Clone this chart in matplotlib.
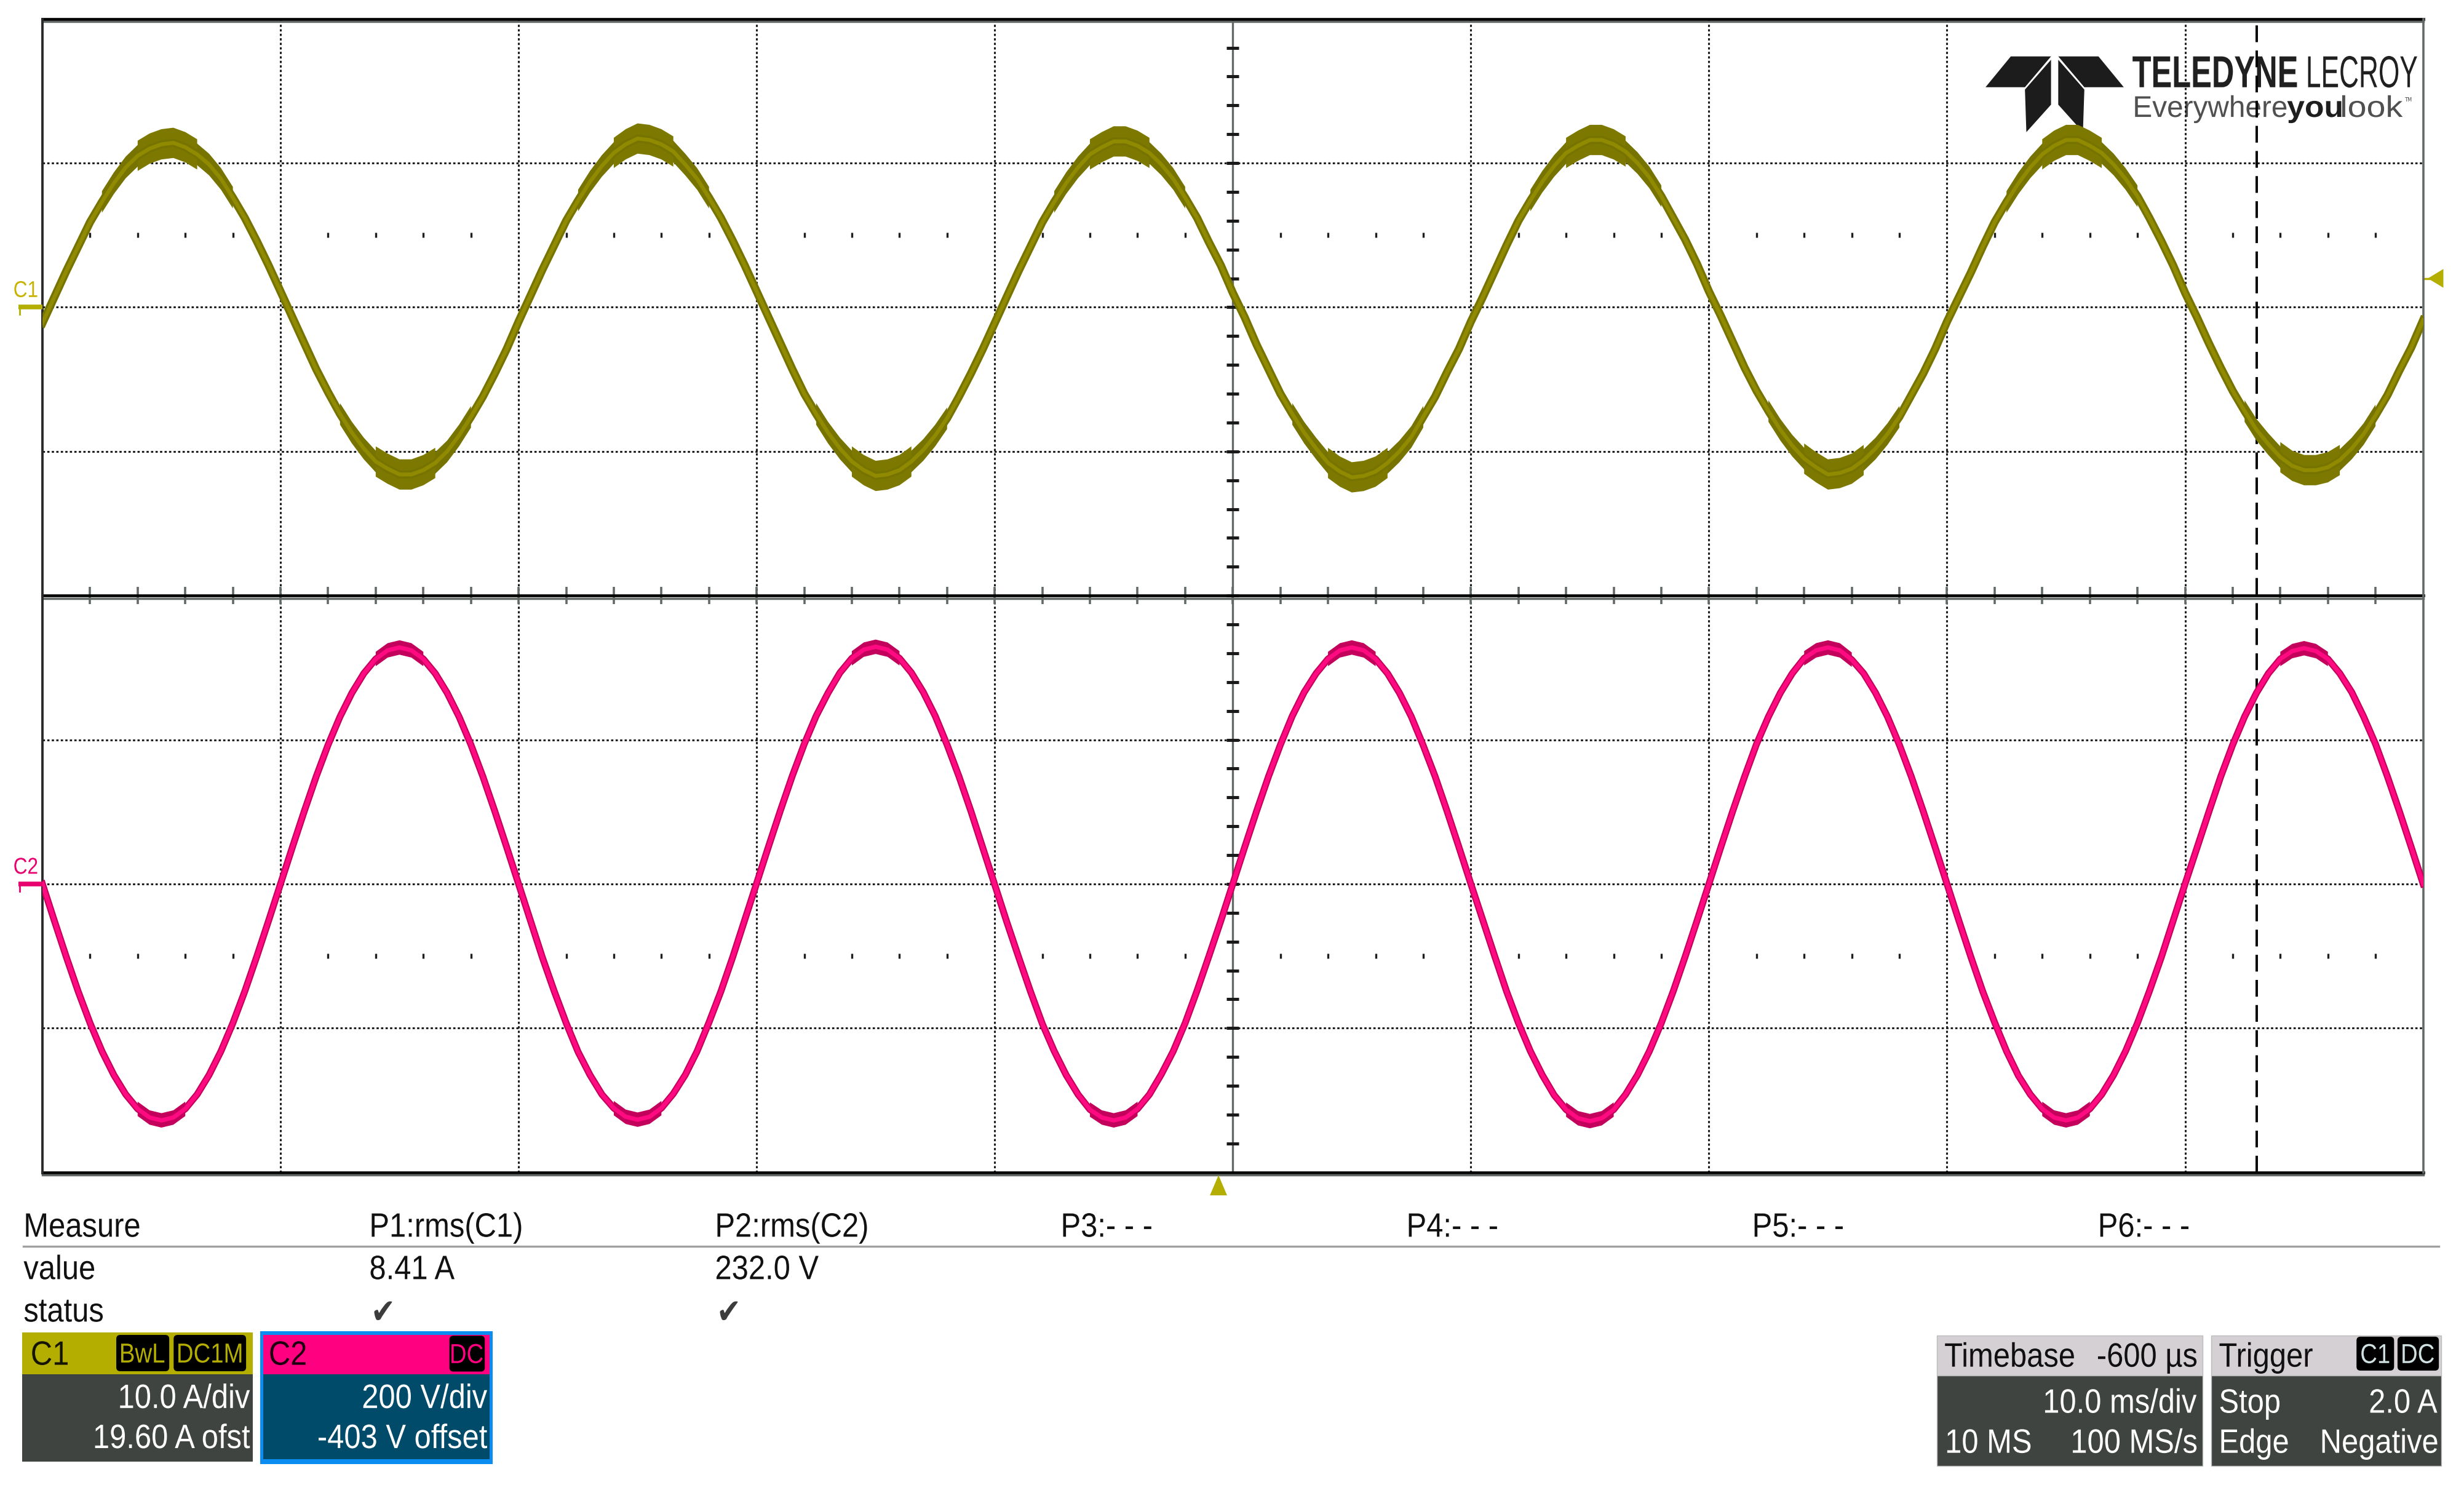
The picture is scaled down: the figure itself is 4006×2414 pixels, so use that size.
import numpy as np
import matplotlib
matplotlib.use("Agg")
import matplotlib.pyplot as plt
from matplotlib.patches import Rectangle, FancyBboxPatch, Polygon, PathPatch
from matplotlib.textpath import TextPath
from matplotlib.font_manager import FontProperties
from matplotlib.transforms import Affine2D

# waveform readings, one sample every 0.5 ms across the 10 divisions
sample_step_ms = 0.5

# C1 current (A)
c1_amps = [
    -1.1, 0.7, 2.5, 4.2, 5.9, 7.3, 8.6, 9.7, 10.5, 11.0,
    11.3, 11.4, 11.1, 10.6, 9.9, 8.9, 7.6, 6.2, 4.6, 2.9,
    1.1, -0.7, -2.5, -4.3, -5.9, -7.4, -8.7, -9.8, -10.7, -11.2,
    -11.6, -11.6, -11.3, -10.8, -10.0, -8.9, -7.6, -6.2, -4.6, -2.9,
    -1.0, 0.8, 2.6, 4.3, 6.0, 7.4, 8.7, 9.8, 10.7, 11.3,
    11.7, 11.6, 11.3, 10.8, 9.9, 8.9, 7.6, 6.2, 4.6, 2.9,
    1.1, -0.7, -2.5, -4.3, -6.0, -7.4, -8.7, -9.8, -10.7, -11.3,
    -11.7, -11.6, -11.3, -10.7, -9.9, -8.9, -7.7, -6.2, -4.6, -2.9,
    -1.1, 0.7, 2.5, 4.2, 5.9, 7.3, 8.6, 9.7, 10.6, 11.1,
    11.5, 11.5, 11.2, 10.7, 9.9, 8.9, 7.6, 6.2, 4.5, 2.9,
    1.0, -0.7, -2.6, -4.3, -6.0, -7.4, -8.7, -9.8, -10.8, -11.4,
    -11.8, -11.7, -11.4, -10.8, -10.0, -9.0, -7.6, -6.2, -4.5, -2.9,
    -1.0, 0.7, 2.5, 4.3, 6.0, 7.4, 8.7, 9.8, 10.7, 11.2,
    11.6, 11.6, 11.3, 10.8, 10.0, 9.0, 7.7, 6.2, 4.7, 3.0,
    1.1, -0.6, -2.4, -4.2, -5.8, -7.2, -8.5, -9.6, -10.5, -11.1,
    -11.6, -11.5, -11.2, -10.6, -9.8, -8.8, -7.6, -6.1, -4.6, -2.9,
    -1.0, 0.7, 2.4, 4.2, 5.9, 7.3, 8.6, 9.7, 10.6, 11.2,
    11.6, 11.6, 11.2, 10.7, 9.9, 8.9, 7.7, 6.2, 4.6, 2.9,
    1.0, -0.7, -2.5, -4.2, -5.8, -7.2, -8.5, -9.5, -10.4, -11.0,
    -11.3, -11.3, -11.1, -10.6, -9.8, -8.8, -7.5, -6.1, -4.4, -2.8,
    -0.9,
]

# C2 voltage (V)
c2_volts = [
    0, -51, -101, -149, -193, -232, -265, -292, -312, -324,
    -328, -324, -312, -292, -265, -232, -193, -149, -101, -51,
    0, 51, 101, 149, 193, 232, 265, 292, 312, 324,
    328, 324, 312, 292, 265, 232, 193, 149, 101, 51,
    0, -51, -102, -149, -193, -233, -265, -292, -311, -323,
    -327, -323, -311, -291, -265, -232, -192, -149, -101, -50,
    1, 52, 102, 150, 194, 233, 265, 293, 313, 325,
    329, 325, 313, 293, 266, 233, 193, 149, 101, 50,
    -1, -52, -101, -149, -194, -232, -265, -292, -313, -324,
    -328, -324, -312, -292, -264, -232, -193, -148, -100, -51,
    0, 51, 101, 149, 193, 233, 266, 292, 312, 324,
    328, 324, 312, 292, 265, 232, 192, 149, 101, 51,
    0, -50, -100, -149, -193, -232, -265, -293, -313, -325,
    -329, -325, -313, -292, -265, -232, -193, -149, -101, -51,
    0, 51, 101, 149, 194, 232, 265, 292, 313, 324,
    328, 324, 311, 292, 265, 232, 193, 149, 101, 51,
    0, -51, -101, -149, -192, -232, -266, -292, -312, -324,
    -328, -324, -312, -292, -265, -232, -193, -149, -102, -51,
    0, 50, 100, 149, 193, 232, 265, 292, 312, 323,
    327, 323, 312, 292, 266, 232, 194, 149, 101, 51,
    0,
]

c1_amps_per_div = 10.0
c2_volts_per_div = 200.0
c1_zero_div = 2.0
c2_zero_div = -2.0
ms_per_div = 10.0
n_xdiv = 10
n_ydiv = 8
trigger_level_a = 2.0
trigger_delay_ms = -0.6
cursor_ms = 93.0

measure_header = ["Measure", "P1:rms(C1)", "P2:rms(C2)", "P3:- - -",
                  "P4:- - -", "P5:- - -", "P6:- - -"]
measure_value = ["value", "8.41 A", "232.0 V"]
measure_status = ["status", "\u2714", "\u2714"]

c1_badges = ["BwL", "DC1M"]
c1_rows = ["10.0 A/div", "19.60 A ofst"]
c2_badges = ["DC"]
c2_rows = ["200 V/div", "-403 V offset"]
timebase_head = ["Timebase", "-600 \u00b5s"]
timebase_rows = [["", "10.0 ms/div"], ["10 MS", "100 MS/s"]]
trigger_badges = ["C1", "DC"]
trigger_rows = [["Stop", "2.0 A"], ["Edge", "Negative"]]

OLIVE = "#b3ae00"
OLIVE_DARK = "#777300"
OLIVE_MID = "#8f8a00"
PINK = "#ff0a80"
PINK_DARK = "#c3005b"
GRID = "#1e1e1e"
GREY = "#636a66"

fig = plt.figure(figsize=(40.06, 24.14), dpi=100)

# full-figure layer in screenshot pixels (1568 x 945)
ui = fig.add_axes([0, 0, 1, 1])
ui.set_xlim(0, 1568)
ui.set_ylim(945, 0)
ui.axis("off")

# scope screen
L, R, T, B = 27, 1542, 12, 746
ax = fig.add_axes([L / 1568, 1 - B / 945, (R - L) / 1568, (B - T) / 945])
xmax = ms_per_div * n_xdiv
ax.set_xlim(0, xmax)
ax.set_ylim(-n_ydiv / 2, n_ydiv / 2)
ax.axis("off")
ax.set_zorder(2)

dots = (0, (1.2, 1.2))
for k in range(1, n_xdiv):
    if k == n_xdiv // 2:
        continue
    ax.axvline(k * ms_per_div, color=GRID, lw=2.2, ls=dots, zorder=1)
for k in [-3, -2, -1, 1, 2, 3]:
    ax.axhline(k, color=GRID, lw=2.2, ls=dots, zorder=1)

minor_x = [x for x in np.arange(2, xmax, 2) if x % ms_per_div != 0]
for yv in (2.5, -2.5):
    ax.plot(minor_x, [yv] * len(minor_x), ls="none", marker="|", ms=6,
            mew=2.4, color=GRID, zorder=1)

# centre axes with ticks
ax.axvline(xmax / 2, color=GREY, lw=2.4, zorder=3)
ax.hlines(np.arange(-3.8, 4.0, 0.2), xmax / 2 - 0.26, xmax / 2 + 0.26,
          color="#1a1a1a", lw=3.6, zorder=3)
ax.vlines(np.arange(2, xmax, 2), -0.06, 0.06, color=GREY, lw=2.6, zorder=3)


def border_h(y):
    ax.axhline(y - 0.02, color=GREY, lw=2.5, zorder=4, clip_on=False)
    ax.axhline(y, color="#050505", lw=3.4, zorder=4, clip_on=False)


border_h(n_ydiv / 2)
border_h(0)
border_h(-n_ydiv / 2)
ax.axvline(0, color="#2a2a2a", lw=2.8, zorder=4, clip_on=False)
ax.axvline(xmax, color=GREY, lw=2.6, zorder=4, clip_on=False)

ax.axvline(cursor_ms, color="#000000", lw=2.8, ls=(0, (7, 3.5)), zorder=3)

# traces
t = np.arange(len(c2_volts)) * sample_step_ms
i1 = np.array(c1_amps)
v2 = np.array(c2_volts, dtype=float)
y1 = c1_zero_div + i1 / c1_amps_per_div
y2 = c2_zero_div + v2 / c2_volts_per_div

ax.fill_between(t, y1 - 0.075, y1 + 0.075, where=np.abs(i1) >= 7.0,
                color=OLIVE_DARK, lw=0, zorder=5)
ax.fill_between(t, y1 - 0.105, y1 + 0.105, where=np.abs(i1) >= 10.4,
                color="#7d7900", lw=0, zorder=5)
ax.plot(t, y1, color=OLIVE_DARK, lw=9.5, solid_joinstyle="round", zorder=6)
ax.plot(t, y1, color=OLIVE_MID, lw=4.5, solid_joinstyle="round", zorder=6)

ax.fill_between(t, y2 - 0.05, y2 + 0.05, where=np.abs(v2) >= 311,
                color=PINK_DARK, lw=0, zorder=5)
ax.plot(t, y2, color=PINK_DARK, lw=8, solid_joinstyle="round", zorder=6)
ax.plot(t, y2, color=PINK, lw=5, solid_joinstyle="round", zorder=6)

# ground markers
for zero, col in [(c1_zero_div, "#b3ae00"), (c2_zero_div, "#e8006e")]:
    ax.plot([-1.0, 0], [zero, zero], color=col, lw=5.5, clip_on=False,
            solid_capstyle="butt", zorder=7)
    ax.plot([-0.95, -0.95], [zero, zero - 0.05], color=col, lw=2,
            clip_on=False, zorder=7)

# trigger level (right) and trigger position (bottom)
lvl = c1_zero_div + trigger_level_a / c1_amps_per_div
ax.plot([xmax, xmax + 0.3], [lvl, lvl], color=OLIVE, lw=2.5, clip_on=False)
ax.add_patch(Polygon([(xmax + 0.2, lvl), (xmax + 0.85, lvl + 0.065),
                      (xmax + 0.85, lvl - 0.065)], closed=True, fc=OLIVE,
                     ec="none", clip_on=False, zorder=7))
tp = xmax / 2 + trigger_delay_ms
ax.add_patch(Polygon([(tp, -4.02), (tp - 0.36, -4.16), (tp + 0.36, -4.16)],
                     closed=True, fc=OLIVE, ec="none", clip_on=False, zorder=7))


# narrow scope-style text drawn as squeezed glyph outlines (screen pixels)
def ntext(x, baseline, s, color="#111111", ha="left", cap_h=14.8,
          squeeze=0.89, weight="normal", family="Liberation Sans"):
    if not s:
        return
    fp = FontProperties(family=family, weight=weight)
    path = TextPath((0, 0), s, size=100, prop=fp)
    cap = TextPath((0, 0), "H", size=100, prop=fp).get_extents().height
    ext = path.get_extents()
    sy = cap_h / cap
    sx = sy * squeeze
    if ha == "right":
        x0 = x - ext.x1 * sx
    elif ha == "center":
        x0 = x - (ext.x0 + ext.x1) / 2 * sx
    else:
        x0 = x
    tr = Affine2D().scale(sx, -sy).translate(x0, baseline)
    ui.add_patch(PathPatch(path, transform=tr + ui.transData, fc=color,
                           ec="none", zorder=5))


def fit_text(s, x0, x1, baseline, cap_h, weight, color):
    fp = FontProperties(family="Liberation Sans", weight=weight)
    path = TextPath((0, 0), s, size=100, prop=fp)
    ext = path.get_extents()
    cap = TextPath((0, 0), "E", size=100, prop=fp).get_extents().height
    sx = (x1 - x0) / ext.width
    sy = cap_h / cap
    tr = Affine2D().translate(-ext.x0, 0).scale(sx, -sy).translate(x0, baseline)
    ui.add_patch(PathPatch(path, transform=tr + ui.transData, fc=color,
                           ec="none"))


# channel names at the left of the grid
ntext(8.5, 189, "C1", color="#c8b400", cap_h=10, squeeze=0.85)
ntext(8.5, 556, "C2", color="#e8006e", cap_h=10, squeeze=0.85)

# logo
logo_left = [(1279.6, 35.9), (1305.2, 35.9), (1288.6, 55.5), (1263.5, 55.5)]
logo_stem_l = [(1305.2, 38.0), (1305.2, 66.6), (1289.5, 84.1), (1288.6, 57.0)]
logo_right = [(2 * 1307.5 - x, y) for x, y in logo_left]
logo_stem_r = [(2 * 1307.5 - x, y) for x, y in logo_stem_l]
for pts in (logo_left, logo_stem_l, logo_right, logo_stem_r):
    ui.add_patch(Polygon(pts, closed=True, fc="#1c1c1c", ec="none"))

fit_text("TELEDYNE", 1357.1, 1461.7, 55.5, 19.6, "bold", "#202020")
fit_text("LECROY", 1468.8, 1538.2, 55.5, 19.6, "normal", "#202020")
fit_text("Everywhere", 1358.7, 1455.0, 74.4, 13.1, "normal", "#505050")
fit_text("you", 1455.5, 1490.0, 74.4, 13.1, "bold", "#1e1e1e")
fit_text("look", 1490.5, 1529.0, 74.4, 13.1, "normal", "#505050")
ui.text(1530, 62, "TM", fontsize=6, color="#505050", va="top")

# measurement table
col_x = [15, 235, 455, 675, 895, 1115, 1335]
for x, s in zip(col_x, measure_header):
    ntext(x, 787, s)
ui.plot([15, 1552], [793, 793], color="#a0a0a0", lw=2.4)
for x, s in zip(col_x, measure_value):
    ntext(x, 814, s)
ntext(col_x[0], 841, measure_status[0])
for x, s in zip(col_x[1:], measure_status[1:]):
    ntext(x + 1, 842, s, color="#3c3c3c", cap_h=16, squeeze=0.85,
          family="DejaVu Sans")


def badge(x0, x1, y0, y1, s, tc):
    ui.add_patch(FancyBboxPatch((x0, y0), x1 - x0, y1 - y0,
                                boxstyle="round,pad=0,rounding_size=2.5",
                                fc="#000000", ec="none", zorder=4))
    ntext((x0 + x1) / 2, (y0 + y1) / 2 + 6, s, color=tc, ha="center",
          cap_h=12, squeeze=0.86)


# C1 descriptor
ui.add_patch(Rectangle((14, 848), 147, 26.5, fc=OLIVE, ec="none"))
ui.add_patch(Rectangle((14, 874.5), 147, 55.5, fc="#404440", ec="none"))
ntext(19.5, 868.5, "C1", color="#141400")
for (x0, x1), s in zip([(74, 107.7), (110.5, 156.6)], c1_badges):
    badge(x0, x1, 849.5, 872.6, s, OLIVE)
for yb, s in zip([896, 921.5], c1_rows):
    ntext(159, yb, s, color="#ffffff", ha="right")

# C2 descriptor (selected, blue frame)
ui.add_patch(Rectangle((165.7, 847.3), 148, 84.5, fc="#0a8cf0", ec="none"))
ui.add_patch(Rectangle((167.7, 849.3), 144, 25.2, fc="#ff0080", ec="none"))
ui.add_patch(Rectangle((167.7, 874.5), 144, 54.0, fc="#004a6a", ec="none"))
ntext(171, 868.5, "C2", color="#1c0010")
for (x0, x1), s in zip([(286, 308.5)], c2_badges):
    badge(x0, x1, 850, 872.8, s, "#ff0080")
for yb, s in zip([896, 921.5], c2_rows):
    ntext(310, yb, s, color="#ffffff", ha="right")

# timebase and trigger descriptors
for x0, w in [(1232.6, 169.1), (1407.0, 146.6)]:
    ui.add_patch(Rectangle((x0, 849.7), w, 25.6, fc="#d4d0d4", ec="#bdbdbd", lw=1))
    ui.add_patch(Rectangle((x0, 875.3), w, 57.7, fc="#404440", ec="#bdbdbd", lw=1))

ntext(1237.3, 869.7, timebase_head[0], color="#101010")
ntext(1397.8, 869.7, timebase_head[1], color="#101010", ha="right")
for yb, (a, b) in zip([899, 924.5], timebase_rows):
    ntext(1237.7, yb, a, color="#ffffff")
    ntext(1397.8, yb, b, color="#ffffff", ha="right")

ntext(1412, 869.7, "Trigger", color="#101010")
for (x0, x1), s in zip([(1499.6, 1523.5), (1525.7, 1552.0)], trigger_badges):
    badge(x0, x1, 850.6, 872.2, s, "#cfe0e0")
for yb, (a, b) in zip([899, 924.5], trigger_rows):
    ntext(1412, yb, a, color="#ffffff")
    ntext(1551, yb, b, color="#ffffff", ha="right")

fig.savefig("out.png", dpi=100, facecolor="white")
